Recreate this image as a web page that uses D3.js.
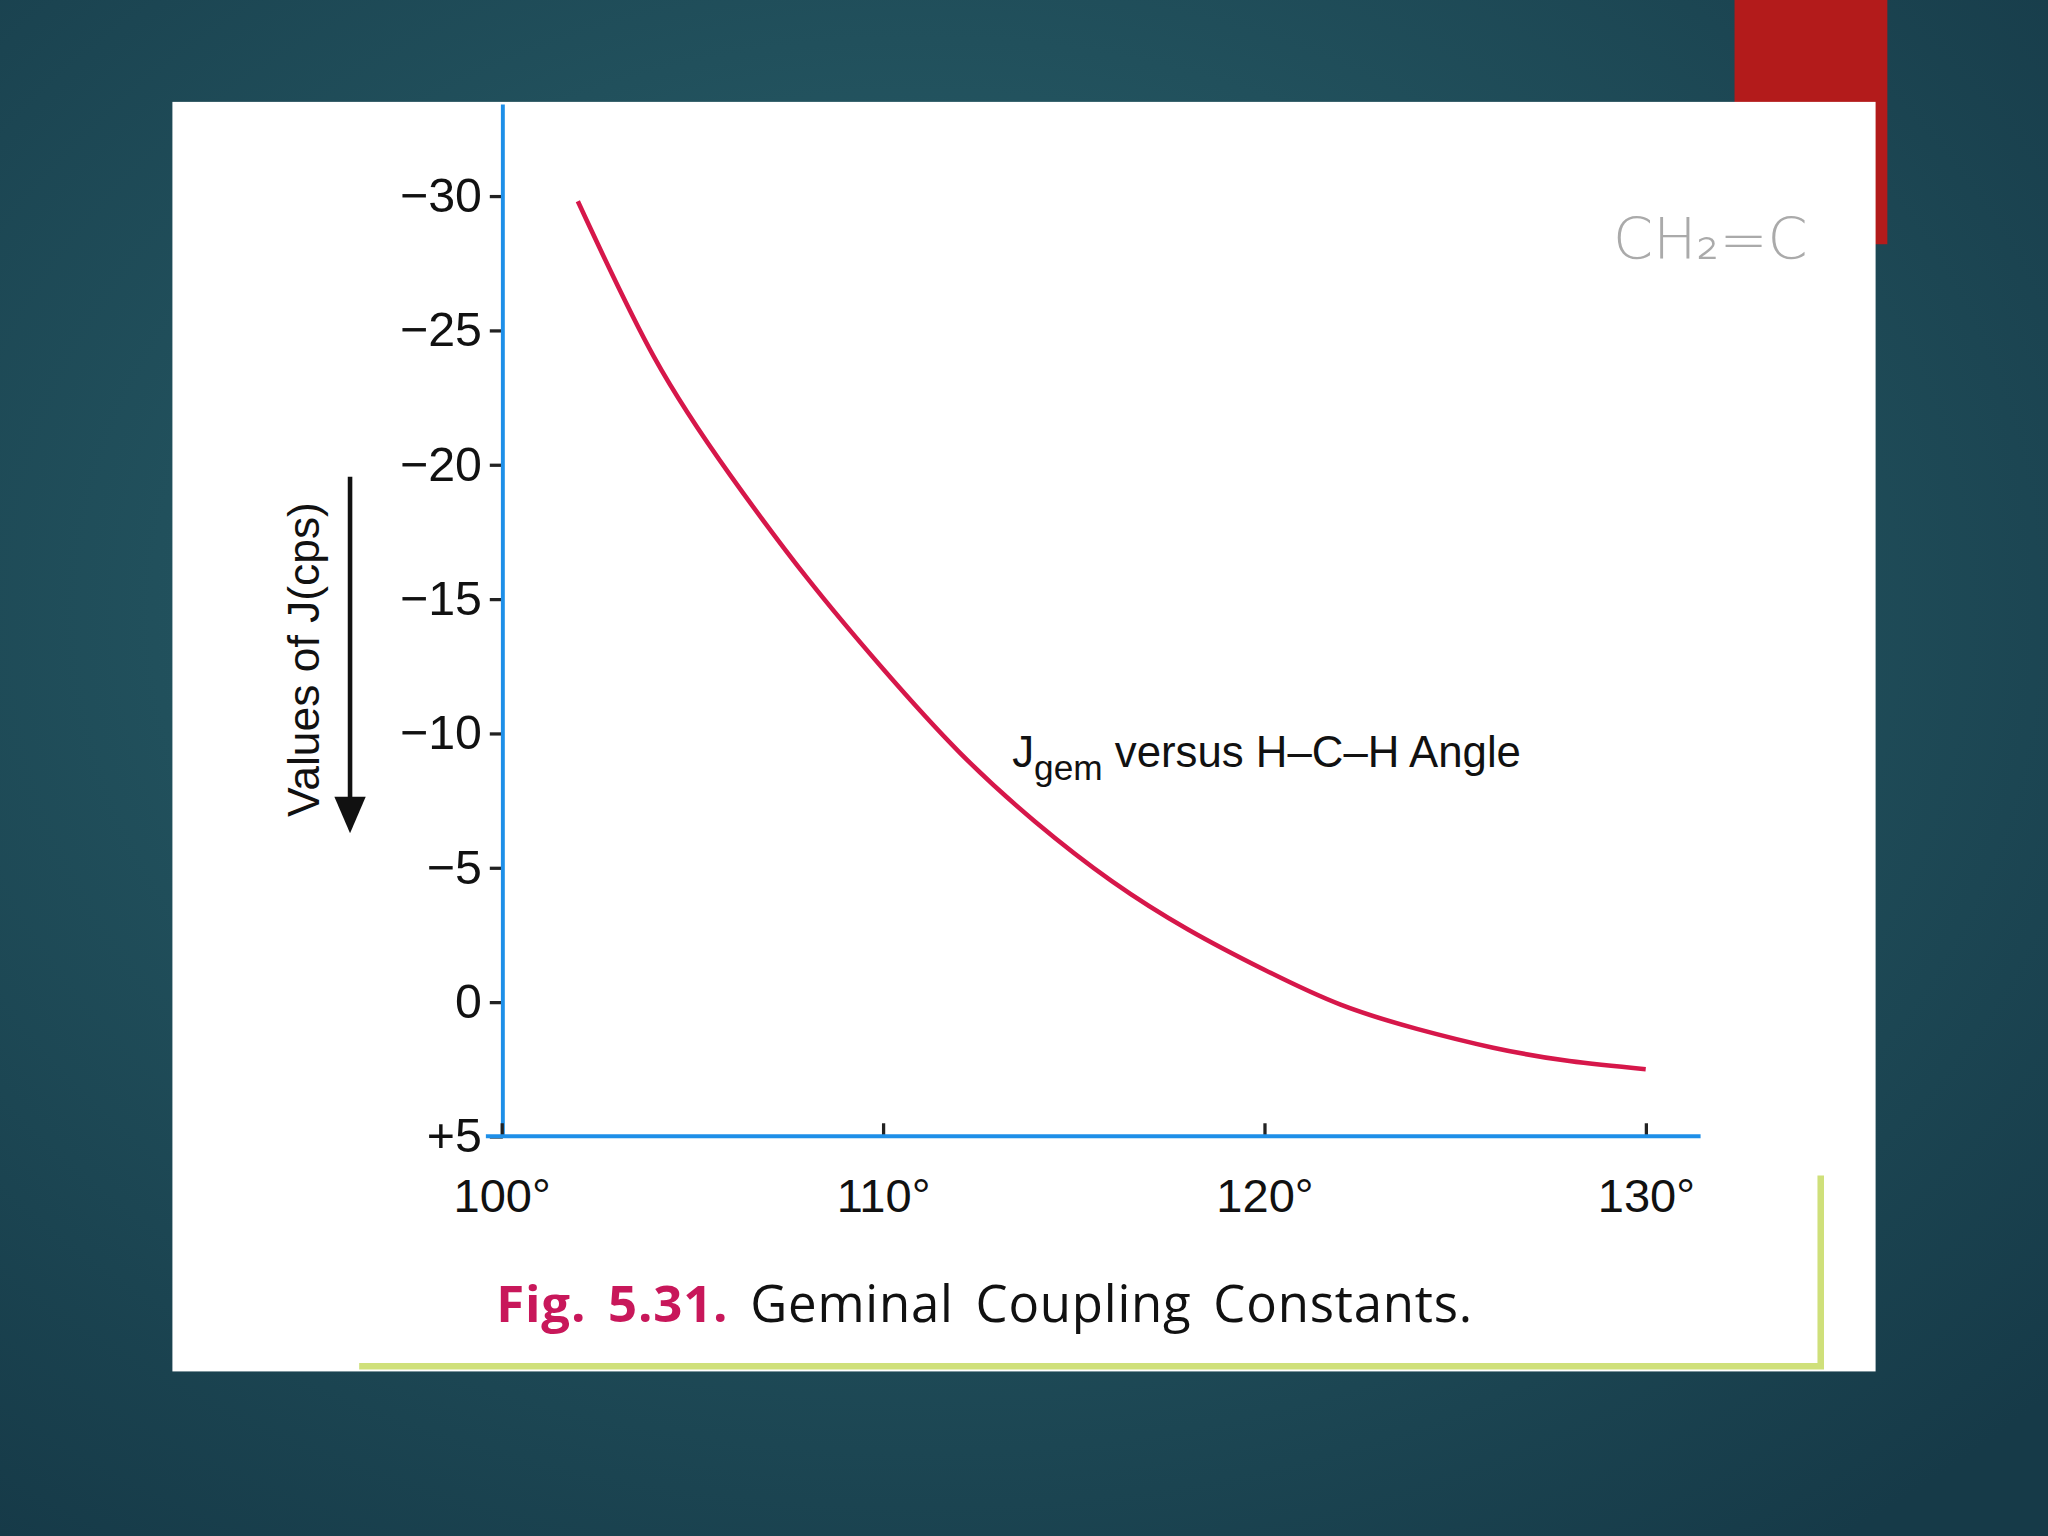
<!DOCTYPE html>
<html><head><meta charset="utf-8">
<script src="https://cdn.jsdelivr.net/npm/d3@7"></script>
<style>html,body{margin:0;padding:0;overflow:hidden}</style></head>
<body><svg id="c" width="2048" height="1536" viewBox="0 0 1568 1176"></svg>
<script>
const angles=[102,104,106,108,110,112,114,116,118,120,122,124,126,128,130];
const jValues=[-29.8,-24.0,-19.6,-15.8,-12.4,-9.3,-6.7,-4.5,-2.7,-1.2,0.1,1.0,1.7,2.2,2.5];
const xTicks=[100,110,120,130];
const yTicks=[-30,-25,-20,-15,-10,-5,0,5];
const svg=d3.select("#c");
const defs=svg.append("defs");
const g=defs.append("radialGradient").attr("id","bg").attr("cx","45%").attr("cy","40%").attr("r","75%");
g.append("stop").attr("offset","0").attr("stop-color","#2c6670");
g.append("stop").attr("offset","1").attr("stop-color","#163a48");
svg.append("rect").attr("width",1568).attr("height",1176).attr("fill","url(#bg)");
svg.append("rect").attr("x",1328).attr("y",0).attr("width",117).attr("height",187).attr("fill","#b31b1b");
svg.append("rect").attr("x",132).attr("y",78).attr("width",1304).attr("height",972).attr("fill","#fff");
svg.append("text").attr("x",1235).attr("y",198).attr("font-family","DejaVu Sans").attr("font-size",44).attr("fill","#aaa").attr("font-weight",200).text("CH₂=C");
svg.append("path").attr("d","M275,1046 H1394 V900").attr("fill","none").attr("stroke","#cfe07a").attr("stroke-width",5);
const x=d3.scaleLinear().domain([100,130]).range([384,1260]);
const y=d3.scaleLinear().domain([-30,5]).range([150,870]);
const blue="#1e8fe8";
const ya=svg.append("g").attr("transform","translate(385,0)").call(d3.axisLeft(y).tickValues(yTicks).tickSize(10).tickFormat(d=>d>0?"+"+d:d<0?"−"+(-d):"0"));
ya.select(".domain").remove();
ya.append("line").attr("x1",0).attr("x2",0).attr("y1",80).attr("y2",870).attr("stroke",blue).attr("stroke-width",3);
ya.selectAll(".tick line").attr("stroke","#222").attr("stroke-width",2.5);
ya.selectAll("text").attr("font-family","Liberation Sans").attr("font-size",37).attr("fill","#111").attr("x",-16);
const xa=svg.append("g").attr("transform","translate(0,870)").call(d3.axisTop(x).tickValues(xTicks).tickSize(10).tickFormat(d=>d+"°"));
xa.select(".domain").remove();
xa.append("line").attr("x1",372).attr("x2",1302).attr("stroke",blue).attr("stroke-width",3);
xa.selectAll(".tick line").attr("stroke","#222").attr("stroke-width",2.5);
xa.selectAll("text").attr("font-family","Liberation Sans").attr("font-size",36).attr("fill","#111").attr("dy",0).attr("y",58);
svg.append("path").datum(angles.map((a,i)=>[a,jValues[i]]))
 .attr("d",d3.line().x(d=>x(d[0])).y(d=>y(d[1])).curve(d3.curveNatural))
 .attr("fill","none").attr("stroke","#d6174a").attr("stroke-width",3.5);
svg.append("text").attr("transform","translate(244,505) rotate(-90)").attr("text-anchor","middle")
 .attr("font-family","Liberation Sans").attr("font-size",34).attr("fill","#111").text("Values of J(cps)");
svg.append("line").attr("x1",268).attr("x2",268).attr("y1",365).attr("y2",612).attr("stroke","#111").attr("stroke-width",3.5);
svg.append("path").attr("d","M256,610 L280,610 L268,638 Z").attr("fill","#111");
const t=svg.append("text").attr("x",775).attr("y",587).attr("font-family","Liberation Sans").attr("font-size",33.5).attr("fill","#111");
t.append("tspan").text("J");
t.append("tspan").attr("dy",10).attr("font-size",27).text("gem");
t.append("tspan").attr("dy",-10).text(" versus H–C–H Angle");
const c=svg.append("text").attr("x",380).attr("y",1012).attr("font-family","Open Sans").attr("font-size",39).attr("letter-spacing",0.6).attr("word-spacing",6).attr("fill","#111");
c.append("tspan").attr("font-weight","bold").attr("fill","#c8175a").text("Fig. 5.31.");
c.append("tspan").text(" Geminal Coupling Constants.");
</script></body></html>
